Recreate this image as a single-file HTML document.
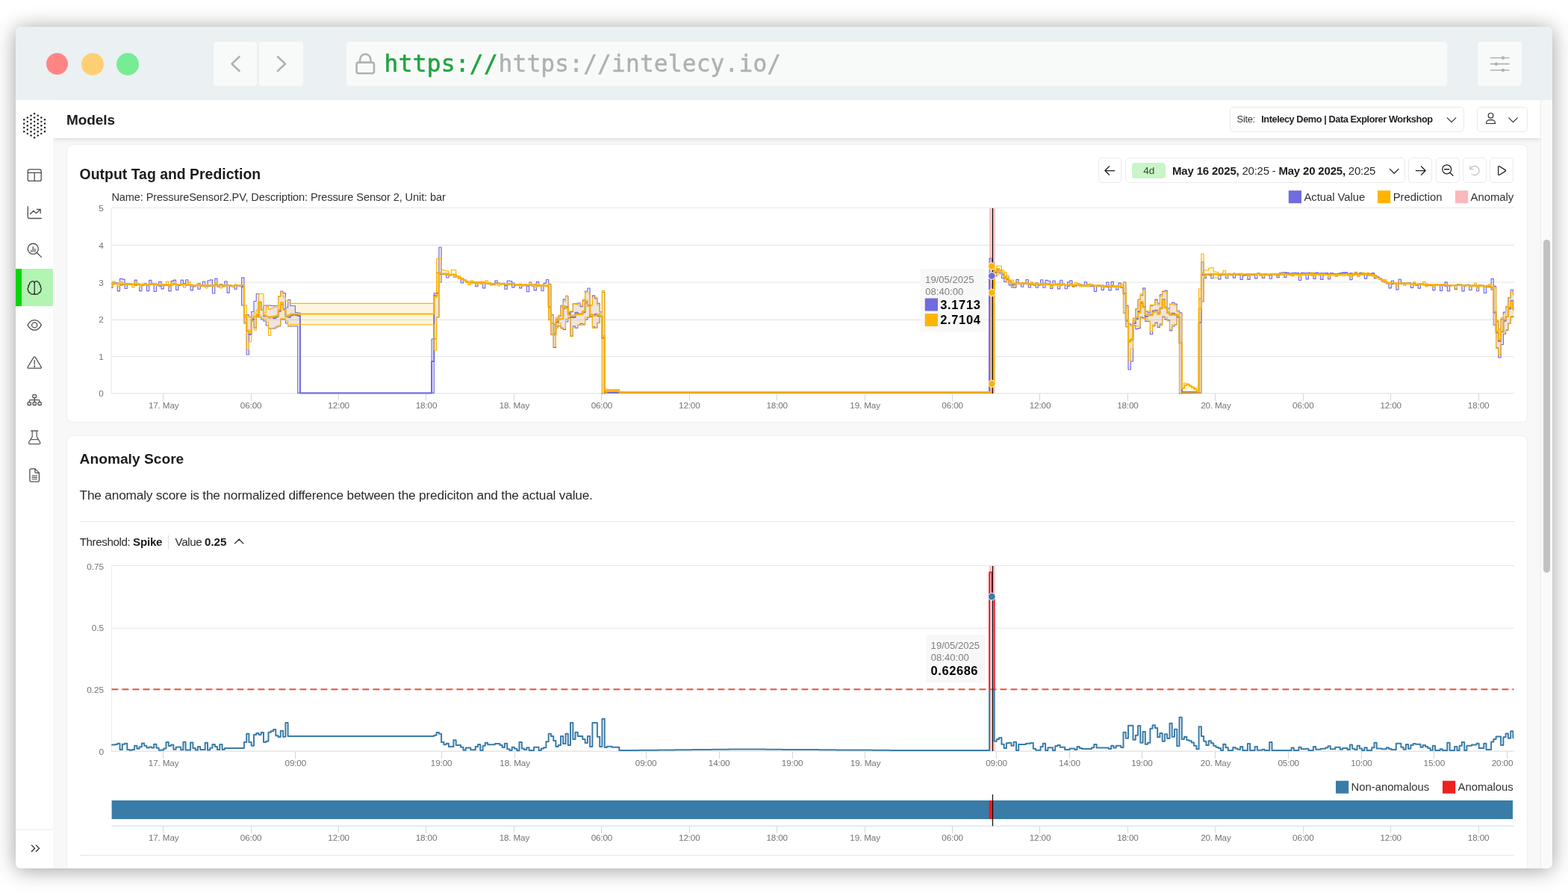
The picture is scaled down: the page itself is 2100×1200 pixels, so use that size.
<!DOCTYPE html>
<html lang="en"><head><meta charset="utf-8"><title>Models - Intelecy</title>
<style>
*{box-sizing:border-box;margin:0;padding:0}
html,body{width:2100px;height:1200px;overflow:hidden;background:#fff}
body{font-family:"Liberation Sans",sans-serif;color:#222;position:relative}
.abs{position:absolute}
.win{position:absolute;left:21px;top:36px;width:2058px;height:1127px;border-radius:7px;overflow:hidden;background:#f8f8f8;}
.shadow{position:absolute;left:21px;top:36px;width:2058px;height:1127px;border-radius:7px;box-shadow:0 2px 28px rgba(0,0,0,.39);}
.pg{position:absolute;left:-21px;top:-36px;width:2100px;height:1200px}
.tb{position:absolute;left:21px;top:36px;width:2058px;height:98px;background:#ebf0f3}
.dot{position:absolute;width:29px;height:29px;border-radius:50%;top:71px}
.nb{position:absolute;top:56px;height:59px;background:#f8fafa;border-radius:4px}
.url{position:absolute;left:514.6px;top:56px;height:59px;line-height:59px;font-family:"DejaVu Sans Mono","Liberation Mono",monospace;font-size:31.2px;letter-spacing:.16px;color:#b0b0b0;white-space:pre;-webkit-text-stroke:.45px #b0b0b0}
.url b{font-weight:normal;color:#22a340;-webkit-text-stroke:.55px #22a340;margin-right:.6px;letter-spacing:.27px}
.side{position:absolute;left:21px;top:134px;width:50px;height:1029px;background:#fff}
.hdr{position:absolute;left:71px;top:134px;width:1992px;height:51px;background:#fff;box-shadow:0 2px 5px rgba(0,0,0,.11)}
.sb{position:absolute;left:2063px;top:134px;width:16px;height:1029px;background:#fafafa;border-left:1px solid #ececec}
.thumb{position:absolute;left:2067px;top:321px;width:9px;height:446px;border-radius:5px;background:#c1c1c1}
.card{position:absolute;background:#fff;border:1px solid #efefef;border-radius:8px}
.h{position:absolute;font-weight:bold;font-size:19px;color:#1b1b1b;white-space:pre;line-height:24px}
.t{position:absolute;white-space:pre;line-height:20px}
.box{position:absolute;border:1px solid #e6e6e6;border-radius:5px;background:#fff}
svg{position:absolute;overflow:visible}
svg text{font-family:"Liberation Sans",sans-serif}
</style></head>
<body>
<div class="shadow"></div>
<div class="win"><div class="pg">
<div class="tb"></div>
<div class="dot" style="left:62px;background:#ff8585;width:29px;height:29px;top:71.0px"></div>
<div class="dot" style="left:109px;background:#ffd073;width:30px;height:30px;top:70.5px"></div>
<div class="dot" style="left:156px;background:#76ec94;width:30px;height:30px;top:70.5px"></div>
<div class="nb" style="left:286px;width:58px"></div><div class="nb" style="left:347px;width:59px"></div>
<div class="nb" style="left:464px;width:1474px"></div><div class="nb" style="left:1979px;width:59px"></div>
<svg style="left:0;top:0" width="2100" height="140" viewBox="0 0 2100 140" fill="none" stroke="#b1b1b1" stroke-width="2.6" stroke-linecap="round" stroke-linejoin="round">
<path d="M320.5 76 L310.5 85.5 L320.5 95"/>
<path d="M372 76 L382 85.5 L372 95"/>
<rect x="477.6" y="83.6" width="23.4" height="14.6" rx="2.6"/>
<path d="M482.2 83.6 v-4 a7.1 7.1 0 0 1 14.2 0 v4"/>
<g stroke-width="1.7"><path d="M1996.5 77.5 H2021 M1996.5 85.7 H2021 M1996.5 94 H2021"/></g>
<g fill="#b1b1b1" stroke="none"><circle cx="2013" cy="77.5" r="2.2"/><circle cx="2004" cy="85.7" r="2.2"/><circle cx="2013" cy="94" r="2.2"/></g>
</svg>
<div class="url"><b>https://</b>https://intelecy.io/</div>
<div class="card" style="left:89px;top:193px;width:1957px;height:373px"></div>
<div class="card" style="left:89px;top:583px;width:1957px;height:640px"></div>
<div class="h" style="left:106.6px;top:221px;font-size:19.4px;letter-spacing:.02px">Output Tag and Prediction</div>
<div class="h" style="left:106.6px;top:603px;font-size:19.2px">Anomaly Score</div>
<div class="t" style="left:106.6px;top:652.2px;font-size:17.3px;color:#2a2a2a;letter-spacing:-.205px;line-height:22px">The anomaly score is the normalized difference between the prediciton and the actual value.</div>
<div class="abs" style="left:107px;top:698px;width:1921px;height:1px;background:#e6e6e6"></div>
<div class="abs" style="left:107px;top:1145px;width:1921px;height:1px;background:#e6e6e6"></div>
<div class="t" style="left:106.7px;top:715.6px;font-size:15.2px;color:#2a2a2a;letter-spacing:-.42px">Threshold: <b style="letter-spacing:-.25px;color:#1a1a1a">Spike</b></div>
<div class="abs" style="left:225px;top:716.5px;width:1px;height:19px;background:#dcdcdc"></div>
<div class="t" style="left:234.6px;top:715.6px;font-size:15.2px;color:#2a2a2a;letter-spacing:-.42px">Value <b style="letter-spacing:-.05px;color:#1a1a1a">0.25</b></div>
<div class="box" style="left:1470.5px;top:211.3px;width:31.5px;height:34px;border-color:#ebebeb"></div>
<div class="box" style="left:1507px;top:211.3px;width:374.5px;height:34px;border-color:#ebebeb"></div>
<div class="box" style="left:1886px;top:211.3px;width:32px;height:34px;border-color:#ebebeb"></div>
<div class="box" style="left:1922.5px;top:211.3px;width:32px;height:34px;border-color:#ebebeb"></div>
<div class="box" style="left:1959px;top:211.3px;width:32px;height:34px;border-color:#ebebeb"></div>
<div class="box" style="left:1995px;top:211.3px;width:32.3px;height:34px;border-color:#ebebeb"></div>
<div class="abs" style="left:1516.3px;top:218px;width:44.7px;height:20.8px;border-radius:4px;background:#c9f5c9"></div>
<div class="t" style="left:1516.3px;top:219px;width:44.7px;text-align:center;font-size:13.6px;color:#2d4f2d;letter-spacing:-.2px">4d</div>
<div class="t" style="left:1570px;top:218.5px;font-size:15px;color:#2a2a2a;letter-spacing:-.25px"><b style="color:#1b1b1b;letter-spacing:-.18px">May 16 2025,</b> 20:25 - <b style="color:#1b1b1b;letter-spacing:-.18px">May 20 2025,</b> 20:25</div>
<svg style="left:0;top:0" width="2100" height="760" viewBox="0 0 2100 760" fill="none" stroke="#1f1f1f" stroke-width="1.25" stroke-linecap="round" stroke-linejoin="round">
<path d="M1492.7 228.5 H1480 M1485.6 222.8 L1479.9 228.5 L1485.6 234.2"/>
<path d="M1861.4 226.4 L1867.2 232.2 L1873 226.4"/>
<path d="M1896.3 228.5 H1909 M1903.4 222.8 L1909.1 228.5 L1903.4 234.2"/>
<circle cx="1937.7" cy="226.8" r="6"/><path d="M1942.1 231.2 L1946 235.2"/><path d="M1934.6 226.7 H1940.6" stroke-width="1.5"/>
<g stroke="#c3c3c3"><path d="M1969.2 226.4 A6.1 6.1 0 1 1 1970.9 233.1"/><path d="M1968.8 222.3 V226.6 H1973"/></g>
<path d="M2006.6 223.6 a1 1 0 0 1 1.5 -0.85 L2016 227.65 a1 1 0 0 1 0 1.7 L2008.1 234.25 a1 1 0 0 1 -1.5 -0.85 Z"/>
<path d="M314.5 727.9 L320.2 722.2 L325.9 727.9"/>
</svg>
<svg style="left:0;top:0" width="2100" height="580" viewBox="0 0 2100 580"><defs><clipPath id="c1"><rect x="149.2" y="270" width="1878.3" height="258"/></clipPath></defs><path d="M149.2 278.3H2027.5M149.2 328.4H2027.5M149.2 378.0H2027.5M149.2 428.4H2027.5M149.2 477.5H2027.5" stroke="#e6e6e6" stroke-width="1.1" fill="none"/><path d="M149.2 278.3V526.9" stroke="#ececec" stroke-width="1.1" fill="none"/><path d="M148.7 526.9H2027.5" stroke="#e2e4ea" stroke-width="1.3" fill="none"/><path d="M218.5 527.4V536.9M336.5 527.4V536.9M453.5 527.4V536.9M570.5 527.4V536.9M688.5 527.4V536.9M805.5 527.4V536.9M923.5 527.4V536.9M1040.5 527.4V536.9M1158.5 527.4V536.9M1275.5 527.4V536.9M1392.5 527.4V536.9M1510.5 527.4V536.9M1627.5 527.4V536.9M1745.5 527.4V536.9M1862.5 527.4V536.9M1980.5 527.4V536.9" stroke="#ccd6eb" stroke-width="1" fill="none"/><g font-size="11.7" fill="#737373" letter-spacing="-0.15"><text x="219.2" y="547.2" text-anchor="middle">17. May</text><text x="336.1" y="547.2" text-anchor="middle">06:00</text><text x="453.6" y="547.2" text-anchor="middle">12:00</text><text x="571" y="547.2" text-anchor="middle">18:00</text><text x="688.9" y="547.2" text-anchor="middle">18. May</text><text x="805.9" y="547.2" text-anchor="middle">06:00</text><text x="923.3" y="547.2" text-anchor="middle">12:00</text><text x="1040.7" y="547.2" text-anchor="middle">18:00</text><text x="1158.6" y="547.2" text-anchor="middle">19. May</text><text x="1275.6" y="547.2" text-anchor="middle">06:00</text><text x="1393" y="547.2" text-anchor="middle">12:00</text><text x="1510.4" y="547.2" text-anchor="middle">18:00</text><text x="1628.4" y="547.2" text-anchor="middle">20. May</text><text x="1745.3" y="547.2" text-anchor="middle">06:00</text><text x="1862.7" y="547.2" text-anchor="middle">12:00</text><text x="1980.1" y="547.2" text-anchor="middle">18:00</text></g><g font-size="11.7" fill="#737373" letter-spacing="-0.15"></g><g font-size="11.8" fill="#737373"><text x="138.9" y="282.9" text-anchor="end">5</text><text x="138.9" y="333.2" text-anchor="end">4</text><text x="138.9" y="382.7" text-anchor="end">3</text><text x="138.9" y="432" text-anchor="end">2</text><text x="138.9" y="481.7" text-anchor="end">1</text><text x="138.9" y="530.8" text-anchor="end">0</text></g><text x="149.4" y="269.2" font-size="14.6" fill="#333" letter-spacing="-0.12">Name: PressureSensor2.PV, Description: Pressure Sensor 2, Unit: bar</text><rect x="1725.8" y="255.2" width="17.2" height="17" fill="#716bdf"/><rect x="1845" y="255.2" width="17.2" height="17" fill="#ffb400"/><rect x="1949" y="255.2" width="17.2" height="17" fill="#f9b9ba"/><g font-size="14.9" fill="#333" letter-spacing="-0.05"><text x="1746.4" y="269.2">Actual Value</text><text x="1865.7" y="269.2">Prediction</text><text x="1969.6" y="269.2">Anomaly</text></g><rect x="1325" y="278.8" width="7.8" height="248" fill="#f8c9c6"/><g clip-path="url(#c1)" fill="none" stroke-linejoin="round"><path d="M147.5 379.2H150.8V379.1H154V378.8H157.3V379.2H160.5V373.3H163.8V374.1H167.1V379.6H170.3V379.9H173.6V380.5H180.1V375.1H183.4V380.1H186.6V380.7H189.9V381H193.2V380.1H196.4V381.8H199.7V375.3H203V379.8H206.2V380.1H209.5V381H212.7V377.3H216V381H219.3V380.9H222.5V381.2H225.8V382H229.1V376.3H232.3V375.1H235.6V380.7H238.8V381.2H242.1V375.1H245.4V380H248.6V374.7H251.9V381.3H255.1V381.9H258.4V382.7H261.7V381.4H264.9V380.1H268.2V382.1H271.5V377H274.7V382.5H278V375.7H281.2V374.9H284.5V382.3H287.8V373.1H291V382.8H294.3V380.6H297.6V382.7H300.8V376.7H304.1V381.6H307.3V382.2H310.6V382.7H313.9V381.4H317.1V381.7H320.4V382H323.6V371.8H326.9V422H330.2V421.5H333.4V424H336.7V417.5H340V403.5H343.2V393.5H346.5V404.3H349.7V414.3H353V409H362.8V409.5H372.6V397H375.8V390H379.1V392.5H382.4V412H385.6V401.5H388.9V409.5H395.4V418.5H398.7V419H401.9V526.4H578.1V454H581.3V392.5H584.6V365H587.9V331H591.1V366.6H594.4V366.2H597.7V367H600.9V367.8H604.2V367.2H607.4V367.6H610.7V369.5H614V372.1H617.2V372.7H620.5V374.5H623.8V376.9H627V377.4H630.3V378H633.5V378.1H636.8V377.7H643.3V378.8H646.6V378H649.8V378.7H653.1V379.1H656.4V379.7H659.6V380.2H662.9V375.7H666.2V378.7H669.4V379.7H672.7V379.4H675.9V381.4H679.2V376H682.5V376.5H685.7V379.2H689V381.1H695.5V380.8H698.8V381.7H702V380.8H705.3V382.2H708.6V378H711.8V381.8H715.1V380.9H718.4V377.3H721.6V381.7H724.9V381.8H728.1V379.3H731.4V374.5H734.7V380.7H737.9V421.3H741.2V435H744.4V427.3H747.7V423.7H751V409.2H754.2V400.8H757.5V396.4H760.8V418.4H764V417.6H767.3V406.7H773.8V405.7H777.1V410.6H780.3V402.6H783.6V390H786.9V386H790.1V408.8H793.4V395.9H796.6V399.8H799.9V406.4H803.2V417.8H806.4V391.5H809.7V523H812.9V523.5H829.3V525.6H1325.1V346H1328.3V352H1331.6V364.3H1334.9V359.5H1338.1V362H1341.4V365.5H1344.7V370.3H1347.9V372.1H1351.2V376.3H1354.4V381.2H1357.7V380.3H1361V374.4H1364.2V379.4H1367.5V378.9H1370.8V378.9H1374V374.5H1377.3V380.6H1380.5V380.1H1383.8V380.8H1387.1V379H1390.3V380.9H1393.6V374.7H1396.8V380H1400.1V375.3H1403.4V376.2H1406.6V381.3H1409.9V376H1413.2V380.6H1416.4V379.9H1419.7V375.2H1422.9V380.2H1426.2V381.6H1429.5V377.8H1432.7V375.9H1436V382.4H1439.3V381.8H1442.5V381.2H1445.8V381.1H1449V381.8H1452.3V377.7H1455.6V381.3H1458.8V382.4H1462.1V382.3H1465.3V382.4H1468.6V382.4H1471.9V382.2H1475.1V382.3H1478.4V383H1481.7V378H1484.9V383.3H1488.2V377.3H1491.4V382.8H1494.7V383.3H1498V379.1H1501.2V384.2H1504.5V378H1507.8V409.1H1511V433.8H1514.3V435H1517.5V426.3H1520.8V413.9H1524.1V401H1527.3V395.7H1530.6V385.8H1533.8V416.8H1537.1V418.8H1540.4V409.7H1543.6V408.5H1546.9V401.1H1550.2V406.1H1553.4V394.9H1556.7V390.4H1559.9V389.1H1563.2V413.1H1566.5V407.4H1569.7V405.1H1573V407H1576.3V416.2H1579.5V418.9H1582.8V524.5H1605.6V400H1608.9V351H1612.1V367.7H1615.4V367H1618.7V367.3H1621.9V367H1625.2V366.5H1628.4V366.6H1631.7V367.6H1635V367H1641.5V366.7H1644.8V366.7H1648V367.5H1651.3V366.2H1654.5V366.8H1657.8V366.9H1661.1V366.6H1664.3V367.9H1667.6V367.5H1670.9V366.7H1674.1V367.2H1677.4V367.3H1680.6V366.8H1683.9V366.1H1687.2V367.7H1690.4V366.8H1693.7V367.2H1697V367.6H1700.2V367.6H1703.5V366.5H1706.7V366.9H1710V367.4H1713.3V365.7H1716.5V365.1H1723V365.4H1726.3V366.2H1729.6V365.8H1732.8V365.4H1736.1V365.6H1739.4V366.5H1742.6V365.4H1745.9V365.6H1749.1V365.8H1752.4V365.4H1755.7V366.6H1758.9V366H1762.2V365.2H1765.5V366.4H1768.7V365.9H1772V366H1775.2V365.5H1778.5V366.9H1781.8V365.5H1785V366.4H1788.3V366.6H1791.5V366.3H1794.8V365.5H1798.1V365.1H1804.6V366.5H1807.9V365.9H1811.1V366.4H1814.4V365.4H1817.6V366.6H1820.9V365.4H1824.2V365.7H1827.4V366.4H1830.7V366.7H1834V366.6H1837.2V365.8H1840.5V369.1H1843.7V370.9H1847V372.9H1850.3V374.9H1853.5V376.8H1856.8V378.7H1860V379H1863.3V376H1866.6V379.1H1869.8V379.4H1873.1V374H1876.4V379.1H1879.6V379.2H1882.9V379.1H1886.1V378.9H1889.4V379.5H1892.7V379.7H1895.9V381.2H1899.2V380.1H1902.5V379.6H1905.7V380.7H1909V380.8H1912.2V381.1H1915.5V381.6H1918.8V381.6H1922V380.5H1925.3V381.5H1928.6V381.3H1931.8V381.1H1935.1V377.8H1938.3V382H1941.6V381.8H1944.9V381.5H1948.1V381.8H1951.4V381H1954.6V381.2H1957.9V381.5H1961.2V381.7H1964.4V381.3H1967.7V382.4H1974.2V382.1H1977.5V383H1980.7V381.5H1984V382.2H1987.3V383.3H1990.5V383H1993.8V383.2H1997.1V373.4H2000.3V383.4H2003.6V430.3H2006.8V440.8H2010.1V427.6H2013.4V418.1H2016.6V411.2H2019.9V398.9H2023.2V388H2026.4V394.3H2029.7V423.9H2026.4V424.6H2023.2V433.1H2019.9V442.3H2016.6V447.2H2013.4V461.5H2010.1V479H2006.8V465.7H2003.6V434.9H2000.3V388H1997.1V384.2H1993.8V384H1990.5V392.5H1987.3V383.2H1984V382.5H1980.7V389.7H1977.5V383.1H1974.2V383.5H1971V388.5H1967.7V382.3H1964.4V382.7H1961.2V389.8H1957.9V382.2H1954.6V382H1951.4V387.3H1948.1V382.5H1944.9V382.8H1941.6V389.6H1938.3V383.1H1935.1V382.1H1931.8V389.3H1928.6V382.5H1925.3V381.5H1922V388.6H1918.8V382.6H1915.5V382.1H1912.2V381.8H1909V381.7H1905.7V380.6H1902.5V386.1H1899.2V382.2H1895.9V380.7H1892.7V385.3H1889.4V379.9H1886.1V380.1H1882.9V380.2H1879.6V380.1H1876.4V380H1873.1V387.8H1869.8V380.1H1866.6V380.3H1863.3V385.8H1860V379.7H1856.8V377.8H1853.5V375.9H1850.3V373.9H1847V371.9H1843.7V372.6H1840.5V368.1H1837.2V368.9H1834V369H1830.7V373.1H1827.4V368H1824.2V367.7H1820.9V368.9H1817.6V367.7H1814.4V368.7H1811.1V374.6H1807.9V368.8H1804.6V367.4H1798.1V367.8H1794.8V368.6H1791.5V368.9H1788.3V368.7H1785V367.8H1781.8V373.6H1778.5V367.8H1775.2V368.3H1772V374.4H1768.7V368.7H1765.5V367.5H1762.2V373.3H1758.9V368.9H1755.7V367.7H1752.4V373.8H1749.1V367.9H1745.9V367.7H1742.6V375.5H1739.4V367.9H1736.1V367.7H1732.8V368.1H1729.6V368.5H1726.3V367.7H1723V371.4H1719.8V367.4H1716.5V368H1713.3V371.6H1710V367.9H1706.7V367.5H1703.5V373.2H1700.2V368.6H1697V368.2H1693.7V372.4H1690.4V368.7H1687.2V367.1H1683.9V372.9H1680.6V368.3H1677.4V368.2H1674.1V374.4H1670.9V368.5H1667.6V368.9H1664.3V374.4H1661.1V367.9H1657.8V367.8H1654.5V372.1H1651.3V368.5H1648V367.7H1644.8V372.7H1641.5V368H1635V373.9H1631.7V367.6H1628.4V367.5H1625.2V372.7H1621.9V368.3H1618.7V368H1615.4V372.4H1612.1V404H1608.9V526.4H1582.8V529.2H1579.5V424.9H1576.3V434.8H1573V437.2H1569.7V442.8H1566.5V428.6H1563.2V427.8H1559.9V424.1H1556.7V434.1H1553.4V438.3H1550.2V432.1H1546.9V436.7H1543.6V447.7H1540.4V430.7H1537.1V430.3H1533.8V425.8H1530.6V424.9H1527.3V439.6H1524.1V440.6H1520.8V436.1H1517.5V484H1514.3V495H1511V437.5H1507.8V419.2H1504.5V385.2H1501.2V384.4H1498V387.9H1494.7V383.8H1491.4V383.6H1488.2V388.8H1484.9V384.4H1481.7V384H1478.4V388.3H1475.1V383.2H1471.9V383.4H1468.6V390.3H1465.3V383.3H1462.1V383.4H1458.8V382.3H1455.6V383.1H1452.3V382.8H1449V382.1H1445.8V382.2H1442.5V382.8H1439.3V383.4H1436V381.1H1432.7V383.1H1429.5V386.7H1426.2V381.2H1422.9V382.2H1419.7V386.8H1416.4V381.6H1413.2V381.5H1409.9V386.4H1406.6V381.2H1403.4V380.9H1400.1V385.2H1396.8V381.1H1393.6V381.9H1390.3V385.2H1387.1V381.8H1383.8V381.1H1380.5V385H1377.3V379.8H1374V379.9H1370.8V384.2H1367.5V380.4H1364.2V379.3H1361V385.1H1357.7V384.8H1354.4V381.9H1351.2V374.7H1347.9V377.3H1344.7V372.5H1341.4V365.6H1338.1V364.5H1334.9V369.9H1331.6V380H1328.3V526.4H809.7V529.3H806.4V424.7H803.2V432.3H799.9V439H796.6V437.6H793.4V424.2H790.1V425.1H786.9V428.1H783.6V434H780.3V433.3H777.1V435.4H773.8V439.4H770.5V436.8H767.3V450.1H764V425.8H760.8V431H757.5V441.5H754.2V439.3H751V436.5H747.7V437.4H744.4V465.5H741.2V448.1H737.9V428.4H734.7V383.2H731.4V383.5H728.1V389.5H724.9V382.7H721.6V383.1H718.4V388.8H715.1V382.8H711.8V382.2H708.6V390.7H705.3V381.8H702V382.7H698.8V385.8H695.5V382H689V384.9H685.7V381H682.5V380.8H679.2V387.2H675.9V380.4H672.7V380.7H669.4V379.7H666.2V379.7H662.9V381.2H659.6V380.7H656.4V380.1H653.1V379.7H649.8V385.9H646.6V379.8H643.3V378.7H640.1V383.5H636.8V379.1H633.5V379H630.3V378.4H627V377.9H623.8V375.5H620.5V379H617.2V373.1H614V370.5H610.7V371.2H607.4V368.2H604.2V368.8H600.9V372H597.7V367.2H594.4V367.6H591.1V378H587.9V425H584.6V454H581.3V526.4H398.7V437H385.6V433H382.4V428H375.8V437H372.6V438H369.3V440H359.5V436H356.3V430H353V428H349.7V425H346.5V424.5H343.2V439H340V430H336.7V448.2H333.4V475H330.2V432H326.9V409H323.6V383H320.4V382.7H317.1V387.2H313.9V383.7H310.6V383.2H307.3V392.1H304.1V383H300.8V383.7H297.6V381.6H294.3V383.8H291V381.8H287.8V393H284.5V383.1H281.2V383.4H278V383.5H274.7V383H271.5V383.1H268.2V387.2H264.9V382.4H261.7V383.7H258.4V388.8H255.1V382.3H251.9V381.9H248.6V381H245.4V381.5H242.1V382.2H238.8V388.3H235.6V380.7H232.3V381.7H229.1V389.8H225.8V382.2H222.5V381.9H219.3V386.8H216V383.1H212.7V382H209.5V390.5H206.2V380.8H203V381H199.7V389.6H196.4V381.1H193.2V382H189.9V389.6H186.6V381.1H183.4V381.9H180.1V381.5H173.6V380.9H170.3V386.5H167.1V381.5H163.8V381.8H160.5V389.9H157.3V379.8H154V380.1H150.8V385.3H147.5Z" fill="#716bdf" fill-opacity="0.13" stroke="#716bdf" stroke-width="1.15"/><path d="M147.5 379.7H150.8V379.6H154V379.3H157.3V379.7H160.5V381.3H163.8V381H167.1V380.1H170.3V380.4H173.6V381H180.1V381.4H183.4V380.6H186.6V381.2H189.9V381.5H193.2V380.6H196.4V382.3H199.7V380.5H203V380.3H206.2V380.6H209.5V381.5H212.7V382.6H216V381.5H219.3V381.4H222.5V381.7H225.8V382.5H229.1V381.2H232.3V380.2H235.6V381.2H238.8V381.7H242.1V381H245.4V380.5H248.6V381.4H251.9V381.8H255.1V382.4H258.4V383.2H261.7V381.9H264.9V380.6H268.2V382.6H271.5V382.5H274.7V383H278V382.9H281.2V382.6H284.5V382.8H287.8V381.3H291V383.3H294.3V381.1H297.6V383.2H300.8V382.5H304.1V382.1H307.3V382.7H310.6V383.2H313.9V381.9H317.1V382.2H320.4V382.5H323.6V384H326.9V424.3H330.2V443.1H333.4V447.7H336.7V428H340V423.9H343.2V421.9H346.5V404.8H349.7V414.8H353V423.3H356.3V424H359.5V425.4H362.8V424.1H366.1V426.2H369.3V424.3H372.6V416.8H375.8V407.7H379.1V413.9H382.4V424.1H385.6V424.7H388.9V422.6H392.1V421.5H395.4V422H398.7V423H401.9V526.4H578.1V484H581.3V396H584.6V392.5H587.9V367H591.1V367.1H594.4V366.7H597.7V367.5H600.9V368.3H604.2V367.7H607.4V368.1H610.7V370H614V372.6H617.2V373.2H620.5V375H623.8V377.4H627V377.9H630.3V378.5H633.5V378.6H636.8V378.2H643.3V379.3H646.6V378.5H649.8V379.2H653.1V379.6H656.4V380.2H659.6V380.7H662.9V379.2H666.2V379.2H669.4V380.2H672.7V379.9H675.9V381.9H679.2V380.3H682.5V380.5H685.7V379.7H689V381.6H695.5V381.3H698.8V382.2H702V381.3H705.3V382.7H708.6V381.7H711.8V382.3H715.1V381.4H718.4V382.6H721.6V382.2H724.9V382.3H728.1V383H731.4V382.7H734.7V411.3H737.9V433H741.2V446.9H744.4V431.6H747.7V427.3H751V427H754.2V412.7H757.5V411H760.8V420.2H764V425.1H767.3V425.1H770.5V418.8H773.8V420.5H777.1V420.5H780.3V418.3H783.6V405.3H786.9V409.1H790.1V423.7H793.4V422.6H796.6V420.8H799.9V423.3H803.2V423H806.4V452.8H809.7V525.5H812.9V525.2H829.3V526.1H1325.1V372H1328.3V369.5H1331.6V364.9H1334.9V361.5H1338.1V362.6H1341.4V367.5H1344.7V372.3H1347.9V374.1H1351.2V376.9H1354.4V381.8H1357.7V380.8H1361V378.8H1364.2V379.9H1367.5V379.4H1370.8V379.4H1374V379.3H1377.3V381.1H1380.5V380.6H1383.8V381.3H1387.1V379.5H1390.3V381.4H1393.6V380.6H1396.8V380.5H1400.1V380.4H1403.4V380.7H1406.6V381.8H1409.9V381H1413.2V381.1H1416.4V380.4H1419.7V381.7H1422.9V380.7H1426.2V382.1H1429.5V382.6H1432.7V380.6H1436V382.9H1439.3V382.3H1442.5V381.7H1445.8V381.6H1449V382.3H1452.3V382.6H1455.6V381.8H1458.8V382.9H1462.1V382.8H1465.3V382.9H1468.6V382.9H1471.9V382.7H1475.1V382.8H1478.4V383.5H1481.7V383.9H1484.9V383.8H1488.2V383.1H1491.4V383.3H1494.7V383.8H1498V383.9H1501.2V384.7H1504.5V393.1H1507.8V429.6H1511V456.8H1514.3V454.7H1517.5V433H1520.8V426.9H1524.1V417.1H1527.3V406.1H1530.6V410.8H1533.8V423.9H1537.1V422H1540.4V421.4H1543.6V416.6H1546.9V415.7H1550.2V419.6H1553.4V412.8H1556.7V401H1559.9V411.7H1563.2V419H1566.5V421.4H1569.7V419.7H1573V421.5H1576.3V424.4H1579.5V459.5H1582.8V525.8H1605.6V432H1608.9V368H1612.1V368.2H1615.4V367.5H1618.7V367.8H1621.9V367.5H1625.2V367H1628.4V367.1H1631.7V368.1H1635V367.5H1641.5V367.2H1644.8V367.2H1648V368H1651.3V366.7H1654.5V367.3H1657.8V367.4H1661.1V367.1H1664.3V368.4H1667.6V368H1670.9V367.2H1674.1V367.7H1677.4V367.8H1680.6V367.3H1683.9V366.6H1687.2V368.2H1690.4V367.3H1693.7V367.7H1697V368.1H1700.2V368.1H1703.5V367H1706.7V367.4H1710V367.9H1713.3V366.2H1716.5V365.6H1723V365.9H1726.3V366.7H1729.6V366.3H1732.8V365.9H1736.1V366.1H1739.4V367H1742.6V365.9H1745.9V366.1H1749.1V366.3H1752.4V365.9H1755.7V367.1H1758.9V366.5H1762.2V365.7H1765.5V366.9H1768.7V366.4H1772V366.5H1775.2V366H1778.5V367.4H1781.8V366H1785V366.9H1788.3V367.1H1791.5V366.8H1794.8V366H1798.1V365.6H1804.6V367H1807.9V366.4H1811.1V366.9H1814.4V365.9H1817.6V367.1H1820.9V365.9H1824.2V366.2H1827.4V366.9H1830.7V367.2H1834V367.1H1837.2V366.3H1840.5V369.6H1843.7V371.4H1847V373.4H1850.3V375.4H1853.5V377.3H1856.8V379.2H1860V379.5H1863.3V379.8H1866.6V379.6H1869.8V379.9H1873.1V379.5H1876.4V379.6H1879.6V379.7H1882.9V379.6H1886.1V379.4H1889.4V380H1892.7V380.2H1895.9V381.7H1899.2V380.6H1902.5V380.1H1905.7V381.2H1909V381.3H1912.2V381.6H1915.5V382.1H1918.8V382.1H1922V381H1925.3V382H1928.6V381.8H1931.8V381.6H1935.1V382.6H1938.3V382.5H1941.6V382.3H1944.9V382H1948.1V382.3H1951.4V381.5H1954.6V381.7H1957.9V382H1961.2V382.2H1964.4V381.8H1967.7V382.9H1974.2V382.6H1977.5V383.5H1980.7V382H1984V382.7H1987.3V383.8H1990.5V383.5H1993.8V383.7H1997.1V384.5H2000.3V418.8H2003.6V445.5H2006.8V456.9H2010.1V444.2H2013.4V429.8H2016.6V424H2019.9V413.4H2023.2V402.8H2026.4V412.8H2029.7" stroke="#716bdf" stroke-width="2"/><path d="M147.5 379.6H150.8V376.7H154V379.3H157.3V379.4H160.5V377.4H163.8V379.7H167.1V380.1H170.3V380H173.6V379.9H176.9V380.3H180.1V376.8H183.4V379.6H186.6V380.8H189.9V380.3H193.2V380.6H196.4V381.1H199.7V379.8H203V380H209.5V381.1H212.7V381.2H216V380.7H219.3V380.6H222.5V377H225.8V381.2H229.1V377.5H232.3V376.5H235.6V381.1H238.8V380.5H242.1V381H245.4V380.6H251.9V377.8H255.1V381.3H258.4V381.9H261.7V381.6H264.9V380.7H268.2V382H271.5V382.1H274.7V381.6H278V381.7H281.2V381.9H284.5V382.2H287.8V377.5H291V382.3H294.3V381.2H297.6V381.8H300.8V382.3H304.1V381.5H307.3V381.8H310.6V382.5H313.9V381.3H317.1V381.6H320.4V381.8H323.6V381.5H326.9V409H330.2V423H333.4V425H336.7V423H340V419H343.2V415H346.5V393.5H353V419H356.3V410.5H359.5V414H362.8V413H366.1V411H369.3V412H372.6V396.5H375.8V391H379.1V398H382.4V403H385.6V405.5H388.9V406.5H392.1V406.3H581.3V396.7H584.6V346.5H591.1V361.5H594.4V362.5H597.7V363H600.9V368.1H604.2V361.5H610.7V370H614V369.8H617.2V373.1H620.5V374.9H623.8V377.3H627V377.9H630.3V375.7H633.5V378.2H636.8V378.1H640.1V378H643.3V376.9H646.6V378.2H649.8V375.8H653.1V378.9H656.4V379.2H659.6V379.7H662.9V379.2H666.2V379.1H669.4V379.9H672.7V379.7H675.9V380.5H679.2V379.8H685.7V379.8H689V380.5H692.3V381H695.5V380.3H698.8V381.3H702V380.5H705.3V381.4H708.6V378.7H711.8V381.4H715.1V381.4H718.4V379.7H721.6V382H724.9V381.8H728.1V382.1H731.4V381.9H734.7V380H737.9V422H741.2V432.7H744.4V424.7H747.7V422H751V411.3H754.2V403.3H757.5V396.7H760.8V416.7H767.3V407.3H773.8V408.7H780.3V400.7H783.6V392H790.1V408.7H793.4V398H799.9V408.7H803.2V420.5H806.4V389.3H809.7V521H812.9V521.7H829.3V524.8H1328.3V356.5H1331.6V359H1334.9V356H1341.4V362H1344.7V364.5H1347.9V369H1351.2V375H1357.7V379.3H1361V378.7H1364.2V379.3H1367.5V378.9H1370.8V378.7H1374V378.9H1377.3V379.8H1380.5V377.8H1383.8V380.1H1387.1V379.4H1390.3V380.3H1393.6V379.8H1396.8V380.1H1400.1V380.3H1403.4V379.8H1406.6V380.4H1409.9V380.6H1413.2V380.2H1416.4V380H1419.7V380.9H1422.9V380.4H1426.2V381.4H1429.5V381.1H1432.7V380.6H1436V381.4H1439.3V378.3H1442.5V379.6H1445.8V381.2H1449V382.1H1452.3V382H1455.6V381.4H1458.8V380.1H1462.1V381.4H1465.3V382.5H1468.6V381.8H1471.9V381.6H1475.1V382.9H1478.4V383H1481.7V382.5H1484.9V382.9H1488.2V381.4H1491.4V382.9H1494.7V383.5H1498V383.3H1501.2V380.6H1504.5V378H1507.8V411.7H1511V436.7H1517.5V426.7H1520.8V413.3H1524.1V401.7H1527.3V393.3H1530.6V389H1533.8V416.7H1540.4V408.3H1546.9V402.5H1550.2V408.3H1553.4V397.5H1556.7V389.7H1559.9V391.7H1563.2V416.7H1566.5V407.5H1569.7V408H1573V409H1576.3V418H1579.5V420H1582.8V514H1586V513H1589.3V514H1592.6V516H1595.8V518H1599.1V520H1602.4V523H1605.6V386.7H1608.9V340H1612.1V361.7H1615.4V362H1618.7V359H1621.9V358.5H1625.2V364H1628.4V364.5H1631.7V366.7H1635V366.3H1638.2V362.5H1641.5V366.7H1644.8V366.3H1648V366.8H1651.3V366.6H1657.8V366.4H1664.3V366.9H1667.6V366.5H1670.9V367H1674.1V366.6H1677.4V366.6H1680.6V367H1683.9V366.4H1687.2V366.9H1690.4V366.5H1693.7V366.8H1697V367.1H1700.2V366.6H1703.5V366.8H1706.7V367.1H1710V366.9H1716.5V365.2H1719.8V366.8H1723V367H1726.3V366.7H1732.8V366.9H1736.1V367H1739.4V367.3H1742.6V366.9H1745.9V366.6H1749.1V366.8H1755.7V364.8H1758.9V367.2H1762.2V366.8H1765.5V367.2H1768.7V366.9H1775.2V367.3H1778.5V367.3H1781.8V367H1785V367.2H1788.3V367.4H1791.5V367.3H1794.8V367.2H1798.1V366.8H1801.3V366.9H1804.6V367.3H1811.1V366.9H1814.4V364.4H1817.6V367.4H1820.9V367.1H1824.2V365.3H1827.4V367.1H1830.7V365.3H1834V367.2H1837.2V367.3H1840.5V369.4H1843.7V371.5H1847V373.2H1850.3V375.1H1853.5V374.2H1856.8V378H1860V379.1H1863.3V378.5H1866.6V379.1H1869.8V379.1H1876.4V379H1879.6V379H1882.9V379.2H1886.1V379.3H1889.4V379.8H1892.7V377.6H1895.9V380.6H1899.2V379.7H1902.5V379.6H1905.7V377.4H1909V380.2H1912.2V380.6H1915.5V380.8H1918.8V381.1H1922V380.9H1925.3V381.1H1928.6V380.9H1931.8V380.7H1935.1V381.1H1938.3V381.8H1941.6V381.6H1944.9V381.5H1948.1V381.8H1951.4V381.5H1954.6V381.1H1957.9V381.7H1961.2V382H1964.4V381.7H1967.7V382.3H1971V382H1974.2V379H1977.5V382.2H1980.7V382.1H1984V382.3H1987.3V382.9H1990.5V382.3H1993.8V380.6H1997.1V383.5H2000.3V385H2003.6V428.8H2006.8V440.5H2010.1V425.3H2013.4V420.7H2016.6V410H2019.9V399H2023.2V391H2026.4V395H2029.7V425H2026.4V423.6H2023.2V433.5H2019.9V441.7H2016.6V445H2010.1V475H2006.8V466.7H2003.6V436H2000.3V386.8H1997.1V383.5H1993.8V383.3H1990.5V383.9H1987.3V383.3H1984V383.1H1980.7V385.8H1977.5V383.3H1974.2V383H1971V383.3H1967.7V382.7H1964.4V383H1961.2V382.7H1957.9V382.1H1954.6V382.5H1951.4V386.2H1948.1V382.5H1944.9V382.6H1941.6V382.8H1938.3V382.1H1935.1V381.7H1931.8V381.9H1928.6V382.1H1925.3V381.9H1922V384.5H1918.8V381.8H1915.5V381.6H1912.2V383.8H1909V381.3H1905.7V380.6H1902.5V380.7H1899.2V381.6H1895.9V381.2H1892.7V380.8H1889.4V380.3H1886.1V380.2H1882.9V382.3H1879.6V380H1876.4V380.1H1873.1V383.1H1869.8V380.1H1866.6V379.5H1863.3V380.1H1860V379H1856.8V377.3H1853.5V377.7H1850.3V374.2H1847V372.5H1843.7V370.4H1840.5V369.9H1837.2V368.2H1830.7V368.1H1827.4V368H1824.2V368.1H1820.9V370.7H1817.6V367.9H1814.4V367.9H1811.1V370.8H1807.9V368.3H1804.6V367.9H1801.3V369.7H1798.1V368.2H1794.8V368.3H1791.5V370.3H1788.3V368.2H1785V368H1781.8V370.8H1778.5V368.3H1775.2V367.9H1768.7V368.2H1765.5V367.8H1762.2V369.9H1758.9V368.3H1755.7V367.8H1749.1V367.6H1745.9V367.9H1742.6V370.4H1739.4V368H1736.1V367.9H1732.8V370.1H1729.6V367.7H1726.3V368H1723V367.8H1719.8V367.6H1716.5V367.9H1713.3V369.5H1710V368.1H1706.7V367.8H1703.5V367.6H1700.2V368.1H1697V367.8H1693.7V370H1690.4V367.9H1687.2V367.4H1683.9V368H1680.6V367.6H1677.4V367.6H1674.1V369.5H1670.9V367.5H1667.6V367.9H1664.3V367.4H1657.8V367.6H1651.3V367.8H1648V367.3H1644.8V369.6H1641.5V367.6H1638.2V367.3H1635V367.7H1631.7V372H1625.2V367.3H1621.9V367.4H1618.7V367.8H1615.4V370H1612.1V403H1608.9V526H1605.6V525.8H1602.4V525.5H1582.8V526H1579.5V423H1576.3V435H1569.7V441H1566.5V430H1563.2V425H1556.7V436H1553.4V436.7H1550.2V433.3H1546.9V435H1543.6V444H1540.4V430H1537.1V426.7H1527.3V436.7H1517.5V466.7H1514.3V482.5H1511V438H1507.8V419H1504.5V384.4H1501.2V384.3H1498V384.5H1494.7V383.9H1491.4V384H1488.2V383.9H1484.9V383.5H1481.7V384H1478.4V383.9H1475.1V382.6H1471.9V382.8H1468.6V383.5H1465.3V382.4H1462.1V382.7H1458.8V384H1455.6V383H1452.3V383.1H1449V383.9H1445.8V382.2H1442.5V381.9H1439.3V384.5H1436V381.6H1432.7V382.1H1429.5V382.4H1426.2V381.4H1422.9V381.9H1419.7V383.7H1416.4V381.2H1413.2V381.6H1409.9V384.4H1406.6V380.8H1403.4V381.3H1400.1V381.1H1396.8V380.8H1393.6V381.3H1390.3V380.4H1387.1V381.1H1383.8V381H1380.5V380.8H1377.3V379.9H1374V379.7H1370.8V379.9H1367.5V380.3H1364.2V379.7H1361V382H1357.7V384H1354.4V377H1351.2V378H1347.9V373H1344.7V369H1341.4V363H1338.1V368H1334.9V364H1331.6V514H1328.3V526H1325.1V525.9H829.3V524.3H812.9V526H809.7V526.4H806.4V424.5H803.2V432.7H799.9V439.3H793.4V423.5H790.1V424.7H783.6V435.3H773.8V438.7H767.3V450.7H764V424.7H760.8V427.3H757.5V440H751V432.7H747.7V439.3H744.4V464H741.2V447.3H737.9V428.7H734.7V382.9H731.4V383.1H728.1V382.8H724.9V383H721.6V382.6H718.4V384.8H715.1V382.4H705.3V381.5H702V382.3H698.8V384H695.5V382H692.3V381.5H689V380.8H685.7V380.8H679.2V381.5H675.9V380.7H672.7V380.9H669.4V383H666.2V380.2H662.9V380.7H659.6V382.2H656.4V379.9H653.1V379.5H649.8V379.2H646.6V380H643.3V379H640.1V380.9H636.8V379.2H633.5V379.5H630.3V381.4H627V378.3H623.8V375.9H620.5V374.1H617.2V373.5H614V371H610.7V371.2H607.4V368.5H604.2V369.1H600.9V367.1H597.7V367.6H594.4V367H591.1V378H587.9V425H584.6V469H581.3V434.7H392.1V434.5H388.9V437H385.6V430H382.4V426.5H375.8V436H372.6V437H369.3V439H366.1V440H362.8V449.5H359.5V431H356.3V427H353V426H349.7V423H346.5V424H343.2V442H340V430H336.7V458H333.4V468.5H330.2V433.5H326.9V382.5H323.6V382.8H320.4V382.6H317.1V382.3H313.9V383.5H310.6V382.8H307.3V382.5H304.1V383.3H300.8V382.8H297.6V385.6H294.3V383.3H291V382.2H287.8V383.2H284.5V382.9H281.2V382.7H278V385.7H274.7V383.1H271.5V383H268.2V381.7H264.9V382.6H261.7V382.9H258.4V382.3H255.1V382.4H251.9V381.6H248.6V384.8H245.4V382H242.1V381.5H238.8V382.1H235.6V381.3H229.1V385.1H225.8V381.8H222.5V381.6H219.3V381.7H216V382.2H212.7V382.1H209.5V381H203V380.8H199.7V382.1H196.4V381.6H193.2V381.3H189.9V385.1H186.6V380.6H183.4V380.9H180.1V384.8H176.9V380.9H173.6V381H170.3V381.1H167.1V380.7H163.8V380.8H160.5V383.6H157.3V380.3H154V380.7H150.8V383.7H147.5Z" fill="#fdb400" fill-opacity="0.12" stroke="#fdb400" stroke-width="1.15"/><path d="M147.5 380.1H150.8V380.2H154V379.8H157.3V379.9H160.5V380.3H163.8V380.2H167.1V380.6H170.3V380.5H173.6V380.4H176.9V380.8H180.1V380.4H183.4V380.1H186.6V381.3H189.9V380.8H193.2V381.1H196.4V381.6H199.7V380.3H203V380.5H209.5V381.6H212.7V381.7H216V381.2H219.3V381.1H222.5V381.3H225.8V381.7H229.1V380.8H235.6V381.6H238.8V381H242.1V381.5H245.4V381.1H251.9V381.9H255.1V381.8H258.4V382.4H261.7V382.1H264.9V381.2H268.2V382.5H271.5V382.6H274.7V382.1H278V382.2H281.2V382.4H284.5V382.7H287.8V381.7H291V382.8H294.3V381.7H297.6V382.3H300.8V382.8H304.1V382H307.3V382.3H310.6V383H313.9V381.8H317.1V382.1H320.4V382.3H323.6V382H326.9V424H330.2V442.5H333.4V446H336.7V425.5H340V424H343.2V421H346.5V404.5H349.7V414.5H353V422H356.3V424H359.5V425H362.8V424H366.1V423.5H369.3V423H372.6V414.5H375.8V405H379.1V415H382.4V423.5H385.6V422H388.9V420.5H581.3V398H584.6V396H587.9V365.5H591.1V366.5H594.4V367.1H597.7V366.6H600.9V368.6H604.2V368H607.4V367.8H610.7V370.5H614V373H617.2V373.6H620.5V375.4H623.8V377.8H627V378.4H630.3V379H633.5V378.7H636.8V378.6H640.1V378.5H643.3V379.5H646.6V378.7H649.8V379H653.1V379.4H656.4V379.7H659.6V380.2H662.9V379.7H666.2V379.6H669.4V380.4H672.7V380.2H675.9V381H679.2V380.3H685.7V380.3H689V381H692.3V381.5H695.5V380.8H698.8V381.8H702V381H705.3V381.9H715.1V381.9H718.4V382.1H721.6V382.5H724.9V382.3H728.1V382.6H731.4V382.4H734.7V410H737.9V432.7H741.2V448.7H744.4V428.7H747.7V427.3H751V427H754.2V410H757.5V412.7H760.8V422H764V422.7H770.5V421.3H780.3V416.7H783.6V402.7H786.9V410H790.1V420.7H793.4V422.7H799.9V420.7H803.2V422.7H806.4V450H809.7V523.3H812.9V522.9H829.3V525.3H1328.3V392H1331.6V363H1334.9V360H1338.1V362H1341.4V366H1344.7V370H1347.9V373H1351.2V376H1354.4V379H1357.7V379.8H1361V379.2H1364.2V379.8H1367.5V379.4H1370.8V379.2H1374V379.4H1377.3V380.3H1380.5V380.5H1383.8V380.6H1387.1V379.9H1390.3V380.8H1393.6V380.3H1396.8V380.6H1400.1V380.8H1403.4V380.3H1406.6V380.9H1409.9V381.1H1413.2V380.7H1416.4V380.5H1419.7V381.4H1422.9V380.9H1426.2V381.9H1429.5V381.6H1432.7V381.1H1436V381.9H1439.3V381.4H1442.5V381.7H1449V382.6H1452.3V382.5H1455.6V381.9H1458.8V382.2H1462.1V381.9H1465.3V383H1468.6V382.3H1471.9V382.1H1475.1V383.4H1478.4V383.5H1481.7V383H1484.9V383.4H1488.2V383.5H1491.4V383.4H1494.7V384H1498V383.8H1501.2V383.9H1504.5V394H1507.8V428H1511V458H1514.3V454H1517.5V430H1520.8V425H1524.1V419H1527.3V404H1530.6V411.7H1533.8V421H1537.1V422.5H1543.6V418.5H1546.9V417H1550.2V421H1553.4V411.7H1556.7V401.7H1559.9V412.5H1563.2V418.5H1566.5V421.7H1579.5V460H1582.8V520H1586V516H1589.3V515H1592.6V517H1595.8V519H1599.1V521H1602.4V524H1605.6V413H1608.9V365.8H1612.1V367.2H1615.4V367.3H1618.7V366.9H1621.9V366.8H1625.2V367.3H1628.4V367.1H1631.7V367.2H1635V366.8H1638.2V367.1H1644.8V366.8H1648V367.3H1651.3V367.1H1657.8V366.9H1664.3V367.4H1667.6V367H1670.9V367.5H1674.1V367.1H1677.4V367.1H1680.6V367.5H1683.9V366.9H1687.2V367.4H1690.4V367H1693.7V367.3H1697V367.6H1700.2V367.1H1703.5V367.3H1706.7V367.6H1710V367.4H1716.5V367.1H1719.8V367.3H1723V367.5H1726.3V367.2H1732.8V367.4H1736.1V367.5H1739.4V367.8H1742.6V367.4H1745.9V367.1H1749.1V367.3H1755.7V367.8H1758.9V367.7H1762.2V367.3H1765.5V367.7H1768.7V367.4H1775.2V367.8H1778.5V367.8H1781.8V367.5H1785V367.7H1788.3V367.9H1791.5V367.8H1794.8V367.7H1798.1V367.3H1801.3V367.4H1804.6V367.8H1811.1V367.4H1814.4V367.4H1817.6V367.9H1820.9V367.6H1824.2V367.5H1827.4V367.6H1830.7V367.8H1837.2V367.8H1840.5V369.9H1843.7V372H1847V373.7H1850.3V375.6H1853.5V376.8H1856.8V378.5H1860V379.6H1863.3V379H1866.6V379.6H1869.8V379.6H1876.4V379.5H1879.6V379.5H1882.9V379.7H1886.1V379.8H1889.4V380.3H1892.7V380.7H1895.9V381.1H1899.2V380.2H1902.5V380.1H1905.7V380.8H1912.2V381.1H1915.5V381.3H1918.8V381.6H1922V381.4H1925.3V381.6H1928.6V381.4H1931.8V381.2H1935.1V381.6H1938.3V382.3H1941.6V382.1H1944.9V382H1948.1V382.3H1951.4V382H1954.6V381.6H1957.9V382.2H1961.2V382.5H1964.4V382.2H1967.7V382.8H1971V382.5H1974.2V382.8H1980.7V382.6H1984V382.8H1987.3V383.4H1990.5V382.8H1993.8V383H1997.1V384H2000.3V417H2003.6V443H2006.8V454.5H2010.1V443H2013.4V427.7H2016.6V423.6H2019.9V411H2023.2V404H2026.4V415H2029.7" stroke="#fdb400" stroke-width="2.1"/></g><path d="M1329.5 278.8V527" stroke="#000" stroke-width="1.1" fill="none"/><g stroke="#fff" stroke-width="1"><circle cx="1328.3" cy="514" r="4.8" fill="#fdb400"/><circle cx="1328.3" cy="392" r="4.8" fill="#fdb400"/><circle cx="1328.3" cy="369.5" r="4.8" fill="#716bdf"/><circle cx="1328.3" cy="356.5" r="4.8" fill="#fdb400"/></g><rect x="1232.5" y="360" width="87.3" height="84.5" rx="3.5" fill="#f7f7f7" fill-opacity="0.88"/><g font-size="13.1" fill="#808080" letter-spacing="0"><text x="1239.1" y="379">19/05/2025</text><text x="1239.3" y="394.5">08:40:00</text></g><rect x="1238.8" y="399.5" width="17.2" height="17" fill="#716bdf"/><rect x="1238.8" y="420" width="17.2" height="17" fill="#ffb400"/><g font-size="16.5" font-weight="bold" fill="#000" letter-spacing="0.62"><text x="1259.3" y="413.5">3.1713</text><text x="1259.3" y="434">2.7104</text></g></svg>
<svg style="left:0;top:0" width="2100" height="1200" viewBox="0 0 2100 1200"><defs><clipPath id="c2"><rect x="149.2" y="750" width="1878.3" height="257.2"/></clipPath><clipPath id="c2a"><rect x="149.2" y="750" width="1878.3" height="173.3"/></clipPath><clipPath id="c2b"><rect x="149.2" y="923.3" width="1878.3" height="84"/></clipPath></defs><path d="M149.2 757.5H2027.5M149.2 841.2H2027.5M149.2 923.3H2027.5" stroke="#e6e6e6" stroke-width="1.1" fill="none"/><path d="M149.5 757.5V1006.0" stroke="#ececec" stroke-width="1.1" fill="none"/><path d="M148.89999999999998 1006.2H2027.5" stroke="#e1e1e4" stroke-width="1.2" fill="none"/><path d="M218.5 1006.6V1016.0M395.5 1006.6V1016.0M591.5 1006.6V1016.0M689.5 1006.6V1016.0M865.5 1006.6V1016.0M963.5 1006.6V1016.0M1061.5 1006.6V1016.0M1158.5 1006.6V1016.0M1334.5 1006.6V1016.0M1432.5 1006.6V1016.0M1529.5 1006.6V1016.0M1627.5 1006.6V1016.0M1725.5 1006.6V1016.0M1823.5 1006.6V1016.0M1920.5 1006.6V1016.0M2018.5 1006.6V1016.0" stroke="#ccd6eb" stroke-width="1" fill="none"/><g font-size="11.7" fill="#737373" letter-spacing="-0.15"><text x="219.1" y="1026.3" text-anchor="middle">17. May</text><text x="395.8" y="1026.3" text-anchor="middle">09:00</text><text x="591.1" y="1026.3" text-anchor="middle">19:00</text><text x="689.6" y="1026.3" text-anchor="middle">18. May</text><text x="865.1" y="1026.3" text-anchor="middle">09:00</text><text x="963.1" y="1026.3" text-anchor="middle">14:00</text><text x="1061.1" y="1026.3" text-anchor="middle">19:00</text><text x="1159.1" y="1026.3" text-anchor="middle">19. May</text><text x="1334.5" y="1026.3" text-anchor="middle">09:00</text><text x="1432.5" y="1026.3" text-anchor="middle">14:00</text><text x="1529.4" y="1026.3" text-anchor="middle">19:00</text><text x="1628.1" y="1026.3" text-anchor="middle">20. May</text><text x="1725.7" y="1026.3" text-anchor="middle">05:00</text><text x="1823.4" y="1026.3" text-anchor="middle">10:00</text><text x="1920.8" y="1026.3" text-anchor="middle">15:00</text><text x="2012" y="1026.3" text-anchor="middle">20:00</text></g><g font-size="11.8" fill="#737373" letter-spacing="-0.1"><text x="138.9" y="762.6" text-anchor="end">0.75</text><text x="138.9" y="845.1" text-anchor="end">0.5</text><text x="138.9" y="928.1" text-anchor="end">0.25</text><text x="138.9" y="1010.6" text-anchor="end">0</text></g><rect x="1325" y="758" width="7.8" height="248" fill="#f8c9c6"/><path d="M149.5 923.3H2027.5" stroke="#e9513b" stroke-width="2" stroke-dasharray="8.8 5.2" fill="none"/><g clip-path="url(#c2b)"><path d="M147.5 997.5H154V997H157.3V995.8H160.5V1004H163.8V996.8H167.1V995.8H170.3V1004H173.6V1004.8H176.9V1004H180.1V998.8H183.4V1002.8H186.6V1000.2H189.9V995.5H193.2V998.8H196.4V1001.5H199.7V1000.5H203V1001.5H206.2V996.8H209.5V1001.8H212.7V1004.8H216V1004.5H219.3V1002.5H222.5V994H225.8V999H229.1V997.5H232.3V1003.8H235.6V1000.8H238.8V1000.5H242.1V1004.2H245.4V993.8H248.6V1004.5H255.1V994.5H258.4V1002H261.7V1004.5H264.9V1000H268.2V1004H274.7V994.8H278V1004.5H281.2V1001.8H284.5V997H287.8V1000H291V1004H294.3V997H297.6V1004H300.8V1002H326.9V994H330.2V982.7H333.4V994H336.7V998.7H340V984H343.2V982H346.5V984H349.7V981.1H353V994H356.3V992.7H359.5V980.7H362.8V979.3H366.1V977.1H369.3V985.3H372.6V986.9H375.8V978.7H379.1V986.7H382.4V968H385.6V986H581.3V984.7H584.6V981.1H587.9V982.7H591.1V994H594.4V997.3H597.7V995.7H600.9V1000H607.4V991.3H610.7V998H617.2V1000.7H620.5V1004.7H623.8V1001.6H630.3V1004.3H636.8V1000H640.1V997.1H643.3V1005.1H646.6V998.7H649.8V994.7H653.1V997.3H662.9V996H669.4V998H672.7V1001.1H675.9V995.7H679.2V1003.3H682.5V1005.1H685.7V1000.7H689V1002.7H692.3V1005.3H695.5V994H698.8V1002.4H702V1004H705.3V1001.3H708.6V1005.1H715.1V1000.7H721.6V1005.1H724.9V1002.4H728.1V1001.3H731.4V993.3H734.7V982.7H737.9V986H741.2V992H744.4V1000H747.7V998H751V986H754.2V996H757.5V982.7H760.8V998H764V968H767.3V990H770.5V980.7H773.8V986H780.3V990H783.6V994.9H786.9V986H790.1V1000H793.4V968H799.9V986.7H803.2V1000H806.4V962.7H809.7V1001.1H812.9V999.7H819.5V1000.7H829.3V1004.9H832.5V1005.1H855.4V1004.8H881.5V1004.5H904.3V1004.3H927.1V1004H953.2V1003.8H976V1003.5H1025V1003.7H1047.8V1003.9H1070.6V1004.1H1096.7V1004.3H1119.6V1004.4H1142.4V1004.6H1168.5V1004.8H1191.3V1005H1217.4V1005.1H1325.1V766.5H1328.3V798.6H1331.6V992.7H1334.9V990H1338.1V988H1341.4V996.7H1344.7V1002H1347.9V995.3H1351.2V994.7H1354.4V998.7H1357.7V993.7H1361V1005.1H1364.2V997.1H1374V995.7H1380.5V994.9H1383.8V1002.7H1387.1V1004.7H1393.6V1000H1396.8V995.7H1400.1V1005.1H1403.4V1001.3H1409.9V1005.1H1413.2V999.3H1416.4V998H1419.7V1000.7H1426.2V1004H1432.7V1002.4H1439.3V1004H1442.5V1000H1445.8V1002H1449V1002.9H1462.1V1001.3H1465.3V997.1H1468.6V1001.6H1484.9V1002.9H1488.2V998.7H1491.4V1001.6H1494.7V998.7H1501.2V1001.1H1504.5V980.7H1507.8V988.7H1511V971.7H1517.5V990.7H1520.8V984.7H1524.1V972H1527.3V994.7H1530.6V980H1533.8V996.7H1537.1V994.7H1540.4V975.7H1543.6V971.3H1546.9V974.9H1550.2V987.3H1553.4V982H1556.7V992.7H1559.9V983.3H1563.2V989.1H1566.5V968.7H1569.7V986.7H1573V976.7H1576.3V999.3H1579.5V960.7H1582.8V990H1586V986.7H1589.3V991.3H1592.6V992.3H1595.8V994.4H1599.1V998.7H1602.4V1003.3H1605.6V973.3H1608.9V986H1612.1V992.7H1615.4V998H1618.7V992.3H1621.9V995.3H1625.2V998.7H1628.4V1000.7H1631.7V1002H1635V1005.1H1638.2V996.7H1641.5V1001.3H1644.8V1005.1H1651.3V1001.1H1654.5V1002.4H1657.8V1003.7H1661.1V1000H1664.3V1005.1H1670.9V996H1674.1V1005.1H1680.6V1000H1683.9V1004.7H1690.4V1003.7H1693.7V1005.1H1700.2V994H1703.5V1005.1H1729.6V1001.6H1732.8V1005.1H1739.4V1000.7H1742.6V1003.3H1749.1V1002.7H1752.4V1005.1H1758.9V1000H1762.2V1003.7H1768.7V1002.7H1775.2V1001.6H1778.5V999.3H1781.8V1003.3H1788.3V1000.7H1794.8V1003.7H1798.1V1002H1804.6V1004H1807.9V997.6H1811.1V1002.7H1814.4V1004H1817.6V998.7H1820.9V1002.4H1824.2V1005.1H1827.4V1001.3H1830.7V1005.1H1837.2V1001.3H1840.5V994.7H1843.7V1002.4H1850.3V1003.3H1856.8V1001.3H1860V1002.9H1863.3V1004H1869.8V995.7H1876.4V1000.7H1879.6V1003.7H1882.9V997.1H1886.1V1002.7H1889.4V998H1892.7V996H1895.9V996.7H1902.5V1000.7H1905.7V998H1909V1000H1912.2V1002H1915.5V1004.7H1918.8V998.7H1922V1005.1H1928.6V1003.3H1931.8V1005.1H1938.3V994.7H1941.6V1005.1H1948.1V1000H1951.4V1005.1H1954.6V998.7H1957.9V994H1961.2V1005.1H1964.4V998.7H1971V997.6H1977.5V995.7H1980.7V1002H1987.3V995.7H1990.5V1004H1997.1V993.6H2000.3V990H2003.6V986.4H2010.1V998H2013.4V987.3H2016.6V982.4H2019.9V988.7H2023.2V979.3H2026.4V988H2029.7" stroke="#3a7ca8" stroke-width="2" fill="none" stroke-linejoin="round"/></g><g clip-path="url(#c2a)"><path d="M147.5 997.5H154V997H157.3V995.8H160.5V1004H163.8V996.8H167.1V995.8H170.3V1004H173.6V1004.8H176.9V1004H180.1V998.8H183.4V1002.8H186.6V1000.2H189.9V995.5H193.2V998.8H196.4V1001.5H199.7V1000.5H203V1001.5H206.2V996.8H209.5V1001.8H212.7V1004.8H216V1004.5H219.3V1002.5H222.5V994H225.8V999H229.1V997.5H232.3V1003.8H235.6V1000.8H238.8V1000.5H242.1V1004.2H245.4V993.8H248.6V1004.5H255.1V994.5H258.4V1002H261.7V1004.5H264.9V1000H268.2V1004H274.7V994.8H278V1004.5H281.2V1001.8H284.5V997H287.8V1000H291V1004H294.3V997H297.6V1004H300.8V1002H326.9V994H330.2V982.7H333.4V994H336.7V998.7H340V984H343.2V982H346.5V984H349.7V981.1H353V994H356.3V992.7H359.5V980.7H362.8V979.3H366.1V977.1H369.3V985.3H372.6V986.9H375.8V978.7H379.1V986.7H382.4V968H385.6V986H581.3V984.7H584.6V981.1H587.9V982.7H591.1V994H594.4V997.3H597.7V995.7H600.9V1000H607.4V991.3H610.7V998H617.2V1000.7H620.5V1004.7H623.8V1001.6H630.3V1004.3H636.8V1000H640.1V997.1H643.3V1005.1H646.6V998.7H649.8V994.7H653.1V997.3H662.9V996H669.4V998H672.7V1001.1H675.9V995.7H679.2V1003.3H682.5V1005.1H685.7V1000.7H689V1002.7H692.3V1005.3H695.5V994H698.8V1002.4H702V1004H705.3V1001.3H708.6V1005.1H715.1V1000.7H721.6V1005.1H724.9V1002.4H728.1V1001.3H731.4V993.3H734.7V982.7H737.9V986H741.2V992H744.4V1000H747.7V998H751V986H754.2V996H757.5V982.7H760.8V998H764V968H767.3V990H770.5V980.7H773.8V986H780.3V990H783.6V994.9H786.9V986H790.1V1000H793.4V968H799.9V986.7H803.2V1000H806.4V962.7H809.7V1001.1H812.9V999.7H819.5V1000.7H829.3V1004.9H832.5V1005.1H855.4V1004.8H881.5V1004.5H904.3V1004.3H927.1V1004H953.2V1003.8H976V1003.5H1025V1003.7H1047.8V1003.9H1070.6V1004.1H1096.7V1004.3H1119.6V1004.4H1142.4V1004.6H1168.5V1004.8H1191.3V1005H1217.4V1005.1H1325.1V766.5H1328.3V798.6H1331.6V992.7H1334.9V990H1338.1V988H1341.4V996.7H1344.7V1002H1347.9V995.3H1351.2V994.7H1354.4V998.7H1357.7V993.7H1361V1005.1H1364.2V997.1H1374V995.7H1380.5V994.9H1383.8V1002.7H1387.1V1004.7H1393.6V1000H1396.8V995.7H1400.1V1005.1H1403.4V1001.3H1409.9V1005.1H1413.2V999.3H1416.4V998H1419.7V1000.7H1426.2V1004H1432.7V1002.4H1439.3V1004H1442.5V1000H1445.8V1002H1449V1002.9H1462.1V1001.3H1465.3V997.1H1468.6V1001.6H1484.9V1002.9H1488.2V998.7H1491.4V1001.6H1494.7V998.7H1501.2V1001.1H1504.5V980.7H1507.8V988.7H1511V971.7H1517.5V990.7H1520.8V984.7H1524.1V972H1527.3V994.7H1530.6V980H1533.8V996.7H1537.1V994.7H1540.4V975.7H1543.6V971.3H1546.9V974.9H1550.2V987.3H1553.4V982H1556.7V992.7H1559.9V983.3H1563.2V989.1H1566.5V968.7H1569.7V986.7H1573V976.7H1576.3V999.3H1579.5V960.7H1582.8V990H1586V986.7H1589.3V991.3H1592.6V992.3H1595.8V994.4H1599.1V998.7H1602.4V1003.3H1605.6V973.3H1608.9V986H1612.1V992.7H1615.4V998H1618.7V992.3H1621.9V995.3H1625.2V998.7H1628.4V1000.7H1631.7V1002H1635V1005.1H1638.2V996.7H1641.5V1001.3H1644.8V1005.1H1651.3V1001.1H1654.5V1002.4H1657.8V1003.7H1661.1V1000H1664.3V1005.1H1670.9V996H1674.1V1005.1H1680.6V1000H1683.9V1004.7H1690.4V1003.7H1693.7V1005.1H1700.2V994H1703.5V1005.1H1729.6V1001.6H1732.8V1005.1H1739.4V1000.7H1742.6V1003.3H1749.1V1002.7H1752.4V1005.1H1758.9V1000H1762.2V1003.7H1768.7V1002.7H1775.2V1001.6H1778.5V999.3H1781.8V1003.3H1788.3V1000.7H1794.8V1003.7H1798.1V1002H1804.6V1004H1807.9V997.6H1811.1V1002.7H1814.4V1004H1817.6V998.7H1820.9V1002.4H1824.2V1005.1H1827.4V1001.3H1830.7V1005.1H1837.2V1001.3H1840.5V994.7H1843.7V1002.4H1850.3V1003.3H1856.8V1001.3H1860V1002.9H1863.3V1004H1869.8V995.7H1876.4V1000.7H1879.6V1003.7H1882.9V997.1H1886.1V1002.7H1889.4V998H1892.7V996H1895.9V996.7H1902.5V1000.7H1905.7V998H1909V1000H1912.2V1002H1915.5V1004.7H1918.8V998.7H1922V1005.1H1928.6V1003.3H1931.8V1005.1H1938.3V994.7H1941.6V1005.1H1948.1V1000H1951.4V1005.1H1954.6V998.7H1957.9V994H1961.2V1005.1H1964.4V998.7H1971V997.6H1977.5V995.7H1980.7V1002H1987.3V995.7H1990.5V1004H1997.1V993.6H2000.3V990H2003.6V986.4H2010.1V998H2013.4V987.3H2016.6V982.4H2019.9V988.7H2023.2V979.3H2026.4V988H2029.7" stroke="#e8203a" stroke-width="2" fill="none" stroke-linejoin="round"/></g><path d="M1329.5 758V1006" stroke="#000" stroke-width="1.1" fill="none"/><circle cx="1328.3" cy="799" r="4.9" fill="#3a7ca8" stroke="#fff" stroke-width="1"/><rect x="1240" y="850" width="79.8" height="64.5" rx="3.5" fill="#f7f7f7" fill-opacity="0.9"/><g font-size="13.1" fill="#808080" letter-spacing="0"><text x="1246.6" y="869">19/05/2025</text><text x="1246.8" y="884.5">08:40:00</text></g><text x="1246.6" y="903.5" font-size="16.5" font-weight="bold" fill="#000" letter-spacing="0.55">0.62686</text><rect x="1789" y="1045.7" width="17.2" height="17" fill="#3a7ca8"/><rect x="1932" y="1045.7" width="17.2" height="17" fill="#ee2020"/><g font-size="14.9" fill="#333" letter-spacing="-0.05"><text x="1809.6" y="1059.2">Non-anomalous</text><text x="1952.6" y="1059.2">Anomalous</text></g><rect x="149.6" y="1072" width="1876.4" height="25" fill="#387ca7"/><rect x="1324.6" y="1072" width="5.6" height="25" fill="#ee1c1c"/><path d="M149.2 1106.3H2027.8" stroke="#ccd6eb" stroke-width="1.1" fill="none"/><path d="M218.5 1106.6V1115.8M336.5 1106.6V1115.8M453.5 1106.6V1115.8M570.5 1106.6V1115.8M688.5 1106.6V1115.8M805.5 1106.6V1115.8M923.5 1106.6V1115.8M1040.5 1106.6V1115.8M1158.5 1106.6V1115.8M1275.5 1106.6V1115.8M1392.5 1106.6V1115.8M1510.5 1106.6V1115.8M1627.5 1106.6V1115.8M1745.5 1106.6V1115.8M1862.5 1106.6V1115.8M1980.5 1106.6V1115.8" stroke="#ccd6eb" stroke-width="1" fill="none"/><g font-size="11.7" fill="#737373" letter-spacing="-0.15"><text x="219.2" y="1125.9" text-anchor="middle">17. May</text><text x="336.1" y="1125.9" text-anchor="middle">06:00</text><text x="453.6" y="1125.9" text-anchor="middle">12:00</text><text x="571" y="1125.9" text-anchor="middle">18:00</text><text x="688.9" y="1125.9" text-anchor="middle">18. May</text><text x="805.9" y="1125.9" text-anchor="middle">06:00</text><text x="923.3" y="1125.9" text-anchor="middle">12:00</text><text x="1040.7" y="1125.9" text-anchor="middle">18:00</text><text x="1158.6" y="1125.9" text-anchor="middle">19. May</text><text x="1275.6" y="1125.9" text-anchor="middle">06:00</text><text x="1393" y="1125.9" text-anchor="middle">12:00</text><text x="1510.4" y="1125.9" text-anchor="middle">18:00</text><text x="1628.4" y="1125.9" text-anchor="middle">20. May</text><text x="1745.3" y="1125.9" text-anchor="middle">06:00</text><text x="1862.7" y="1125.9" text-anchor="middle">12:00</text><text x="1980.1" y="1125.9" text-anchor="middle">18:00</text></g><path d="M1329.5 1064V1106.3" stroke="#000" stroke-width="1.1" fill="none"/></svg>
<div class="hdr"></div>
<div class="side"></div>
<div class="sb"></div><div class="thumb"></div>
<div class="abs" style="left:21px;top:360px;width:50px;height:50px;background:#b2f5b2"></div>
<div class="abs" style="left:21px;top:360px;width:7.7px;height:50px;background:#03d703"></div>
<div class="abs" style="left:21px;top:1110px;width:50px;height:2px;background:#f4f4f4"></div>
<svg style="left:0;top:0" width="100" height="1200" viewBox="0 0 100 1200"><g fill="#1d1d1d"><circle cx="32.21" cy="160.17" r="1.22"/><circle cx="32.21" cy="165.52" r="1.22"/><circle cx="32.21" cy="170.88" r="1.22"/><circle cx="32.21" cy="176.22" r="1.22"/><circle cx="36.84" cy="157.50" r="1.22"/><circle cx="36.84" cy="162.85" r="1.22"/><circle cx="36.84" cy="168.20" r="1.22"/><circle cx="36.84" cy="173.55" r="1.22"/><circle cx="36.84" cy="178.90" r="1.22"/><circle cx="41.47" cy="154.82" r="1.22"/><circle cx="41.47" cy="160.17" r="1.22"/><circle cx="41.47" cy="165.52" r="1.22"/><circle cx="41.47" cy="170.88" r="1.22"/><circle cx="41.47" cy="176.22" r="1.22"/><circle cx="41.47" cy="181.57" r="1.22"/><circle cx="46.10" cy="152.15" r="1.22"/><circle cx="46.10" cy="157.50" r="1.22"/><circle cx="46.10" cy="162.85" r="1.22"/><circle cx="46.10" cy="168.20" r="1.22"/><circle cx="46.10" cy="173.55" r="1.22"/><circle cx="46.10" cy="178.90" r="1.22"/><circle cx="46.10" cy="184.25" r="1.22"/><circle cx="50.73" cy="154.82" r="1.22"/><circle cx="50.73" cy="160.17" r="1.22"/><circle cx="50.73" cy="165.52" r="1.22"/><circle cx="50.73" cy="170.88" r="1.22"/><circle cx="50.73" cy="176.22" r="1.22"/><circle cx="50.73" cy="181.57" r="1.22"/><circle cx="55.36" cy="157.50" r="1.22"/><circle cx="55.36" cy="162.85" r="1.22"/><circle cx="55.36" cy="168.20" r="1.22"/><circle cx="55.36" cy="173.55" r="1.22"/><circle cx="55.36" cy="178.90" r="1.22"/><circle cx="59.99" cy="160.17" r="1.22"/><circle cx="59.99" cy="165.52" r="1.22"/><circle cx="59.99" cy="170.88" r="1.22"/><circle cx="59.99" cy="176.22" r="1.22"/></g>
<g fill="none" stroke="#4d4d4d" stroke-width="1.3" stroke-linecap="round" stroke-linejoin="round">
<rect x="37.3" y="226.9" width="17.9" height="15.5" rx="2.2"/><path d="M37.3 231.4 H55.2 M46.2 231.4 V242.4"/>
<path d="M37.3 276.6 V290.6 a1.9 1.9 0 0 0 1.9 1.9 H55.3"/><path d="M40.6 286.5 L45 282.2 L48.4 285.6 L54 280.5 M49.3 280.4 H54.2 V285.3"/>
<circle cx="44.3" cy="333.3" r="7.05"/><path d="M49.4 338.5 L55.4 344.4"/><path d="M41.8 335.3 V337.2 M44.3 330.6 V337.2 M46.8 333.2 V337.2"/>
<g stroke="#2c2c2c"><path d="M46.2 377.3 V393.9"/><path d="M46.2 378.6 C45.6 376.4 42.6 376 41.6 377.8 C39.9 377.9 39.3 379.7 39.6 380.8 C38 381.6 37.7 383.4 38.3 384.6 C36.8 385.8 36.8 387.7 37.9 388.7 C37.5 390.5 38.8 391.9 40.2 392 C40.9 393.8 42.8 394.4 43.9 393.8 C44.9 394.6 46 394.2 46.2 393.2"/><path d="M46.2 378.6 C46.8 376.4 49.8 376 50.8 377.8 C52.5 377.9 53.1 379.7 52.8 380.8 C54.4 381.6 54.7 383.4 54.1 384.6 C55.6 385.8 55.6 387.7 54.5 388.7 C54.9 390.5 53.6 391.9 52.2 392 C51.5 393.8 49.6 394.4 48.5 393.8 C47.5 394.6 46.4 394.2 46.2 393.2"/></g>
<path d="M37 435.4 C39.4 431 42.6 428.6 46.2 428.6 C49.8 428.6 53 431 55.4 435.4 C53 439.8 49.8 442.2 46.2 442.2 C42.6 442.2 39.4 439.8 37 435.4 Z"/><circle cx="46.2" cy="435.4" r="3.55"/>
<path d="M45.2 478.4 a1.15 1.15 0 0 1 2 0 L55.2 491.5 a1.15 1.15 0 0 1 -1 1.7 H38.2 a1.15 1.15 0 0 1 -1 -1.7 Z"/><path d="M46.2 482.6 V488.2"/><circle cx="46.2" cy="490.7" r="0.5" fill="#4d4d4d"/>
<rect x="43.9" y="528.6" width="4.6" height="4.1" rx="1"/><rect x="37.1" y="538.7" width="4.3" height="3.8" rx="1"/><rect x="44" y="538.7" width="4.4" height="3.8" rx="1"/><rect x="51" y="538.7" width="4.3" height="3.8" rx="1"/><path d="M46.2 532.7 V538.7 M39.3 538.7 V537 a1.3 1.3 0 0 1 1.3 -1.3 H51.8 a1.3 1.3 0 0 1 1.3 1.3 V538.7"/>
<g stroke="#5e5e5e"><path d="M41.6 577 H50.8 M43.2 577 V584.8 L38.7 592.4 a1.5 1.5 0 0 0 1.3 2.3 H52.4 a1.5 1.5 0 0 0 1.3 -2.3 L49.2 584.8 V577 M40.9 588.7 H51.5"/></g>
<path d="M41.6 627.9 H46.9 L52.4 633.4 V643.4 a1.7 1.7 0 0 1 -1.7 1.7 H41.6 a1.7 1.7 0 0 1 -1.7 -1.7 V629.6 a1.7 1.7 0 0 1 1.7 -1.7 Z"/><path d="M46.9 627.9 V631.9 a1.4 1.4 0 0 0 1.4 1.4 H52.4"/><path d="M43 637 H49.5 M43 639.4 H49.5 M43 641.8 H49.5" stroke-width="1.1"/>
<g stroke="#2f2f2f"><path d="M42 1131.6 L46.6 1136.2 L42 1140.8 M47.9 1131.6 L52.5 1136.2 L47.9 1140.8" stroke-linecap="butt" stroke-linejoin="miter"/></g>
</g></svg>
<div class="h" style="left:89px;top:148.7px;letter-spacing:-.1px">Models</div>
<div class="box" style="left:1647px;top:143px;width:314px;height:34px;border-color:#e9e9e9"></div>
<div class="box" style="left:1978px;top:143px;width:68px;height:34px;border-color:#e9e9e9"></div>
<div class="t" style="left:1656.6px;top:150px;font-size:12.9px;color:#333;letter-spacing:-.3px">Site:</div>
<div class="t" style="left:1689.2px;top:150px;font-size:12.8px;font-weight:bold;color:#222;letter-spacing:-.45px">Intelecy Demo | Data Explorer Workshop</div>
<svg style="left:0;top:0" width="2100" height="200" viewBox="0 0 2100 200" fill="none" stroke="#2b2b2b" stroke-width="1.2" stroke-linecap="round" stroke-linejoin="round">
<path d="M1938.3 157.9 L1944 163.6 L1949.7 157.9"/>
<path d="M2020.8 157.9 L2026.5 163.6 L2032.2 157.9"/>
<circle cx="1996.5" cy="154.8" r="3.3"/>
<path d="M1990.6 165.5 v-0.6 a4.3 4.3 0 0 1 4.3 -4.3 h3.2 a4.3 4.3 0 0 1 4.3 4.3 v0.6 Z"/>
</svg>
</div></div>
</body></html>
